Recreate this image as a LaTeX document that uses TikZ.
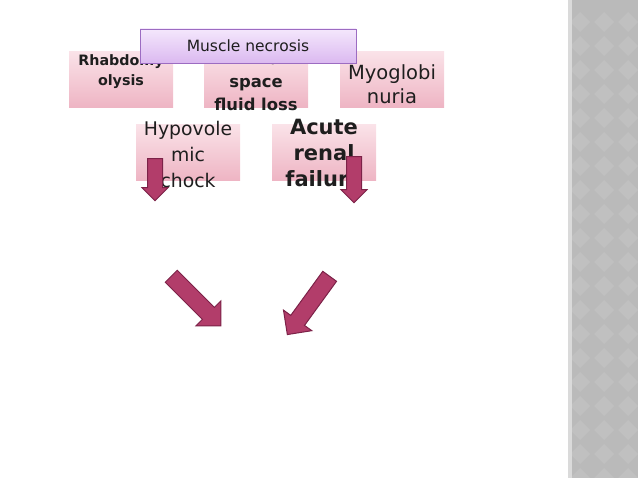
\documentclass[tikz,border=0pt]{standalone}
\usepackage{fontspec}
\setmainfont{DejaVu Sans}
\usetikzlibrary{shapes.arrows}

\definecolor{pinktop}{HTML}{FAE2E8}
\definecolor{pinkbot}{HTML}{EEB4C3}
\definecolor{lavtop}{HTML}{F4E7FC}
\definecolor{lavbot}{HTML}{DBB9F0}
\definecolor{lavline}{HTML}{9C6CC2}
\definecolor{arrowfill}{HTML}{B23D6A}
\definecolor{arrowline}{HTML}{7C2248}
\definecolor{stripgray}{HTML}{BABABA}
\definecolor{stripdia}{HTML}{C0C0C0}
\definecolor{stripedge}{HTML}{DADADA}
\definecolor{textdark}{HTML}{1E1E1E}

\tikzset{
  pinkbox/.style={rectangle, minimum width=104pt, minimum height=56pt, inner sep=0pt,
    top color=pinktop, bottom color=pinkbot},
  boxtext/.style={text=textdark, align=center, inner sep=0pt},
  bigarrow/.style={single arrow, fill=arrowfill, draw=arrowline, line width=1pt,
    inner xsep=0pt, single arrow head indent=0pt}
}

\begin{document}
\begin{tikzpicture}[x=1pt,y=-1pt]
        \useasboundingbox (0,0) rectangle (638,478);

        % grey strip on the right
        \fill[stripgray] (568,0) rectangle (638,478);
        \foreach \i in {0,...,3}
          \foreach \j in {0,...,20}
            \fill[stripdia] (580+24*\i,12+24*\j) -- ++(10,10) -- ++(-10,10) -- ++(-10,-10) -- cycle;
        \fill[stripedge] (568,0) rectangle (572,478);

        % first row
        \node[pinkbox] (rhab) at (121,80) {};
        \node[pinkbox] (third) at (256,80) {};
        \node[pinkbox] (myo) at (392,80) {};

        \node[boxtext, font=\bfseries\fontsize{14.3}{20}\selectfont] (rhabtext) at (rhab.center) [yshift=8pt] {Rhabdomy\\olysis};
        \node[boxtext, font=\bfseries\fontsize{16.4}{23}\selectfont] (thirdtext) at (third.center) [yshift=-1pt] {Third\\space\\fluid loss};
        \node[boxtext, font=\fontsize{19.5}{24}\selectfont] (myotext) at (myo.center) [yshift=-4pt] {Myoglobi\\nuria};

        % muscle necrosis on top
        \node[rectangle, minimum width=216pt, minimum height=34pt, inner sep=0pt,
          top color=lavtop, bottom color=lavbot, draw=lavline, line width=0.8pt] (necro) at (248,46) {};
        \node[boxtext, font=\fontsize{15.5}{18}\selectfont] (necrotext) at (necro.center) {Muscle necrosis};

        % second row
        \node[pinkbox] (hypo) at (188,153) {};
        \node[pinkbox] (acute) at (324,153) {};

        \node[boxtext, font=\fontsize{18.8}{26}\selectfont] (hypotext) at (hypo.center) [yshift=-1pt] {Hypovole\\mic\\chock};
        \node[boxtext, font=\bfseries\fontsize{21}{26}\selectfont] (acutetext) at (acute.center) {Acute\\renal\\failure};

        % arrows
        \node[bigarrow, minimum height=42pt, inner ysep=7pt, single arrow head extend=5.5pt,
          rotate=-90] (downleft) at (155,176) {};
        \node[bigarrow, minimum height=46pt, inner ysep=7pt, single arrow head extend=5.5pt,
          rotate=-90] (downright) at (354,176) {};

        \node[bigarrow, minimum height=70pt, inner ysep=8pt, single arrow head extend=9pt,
          rotate=-45] (diagleft) at (193,298) {};
        \node[bigarrow, minimum height=72pt, inner ysep=8pt, single arrow head extend=9pt,
          rotate=234] (diagright) at (311,302) {};

        \end{tikzpicture}
\end{document}
